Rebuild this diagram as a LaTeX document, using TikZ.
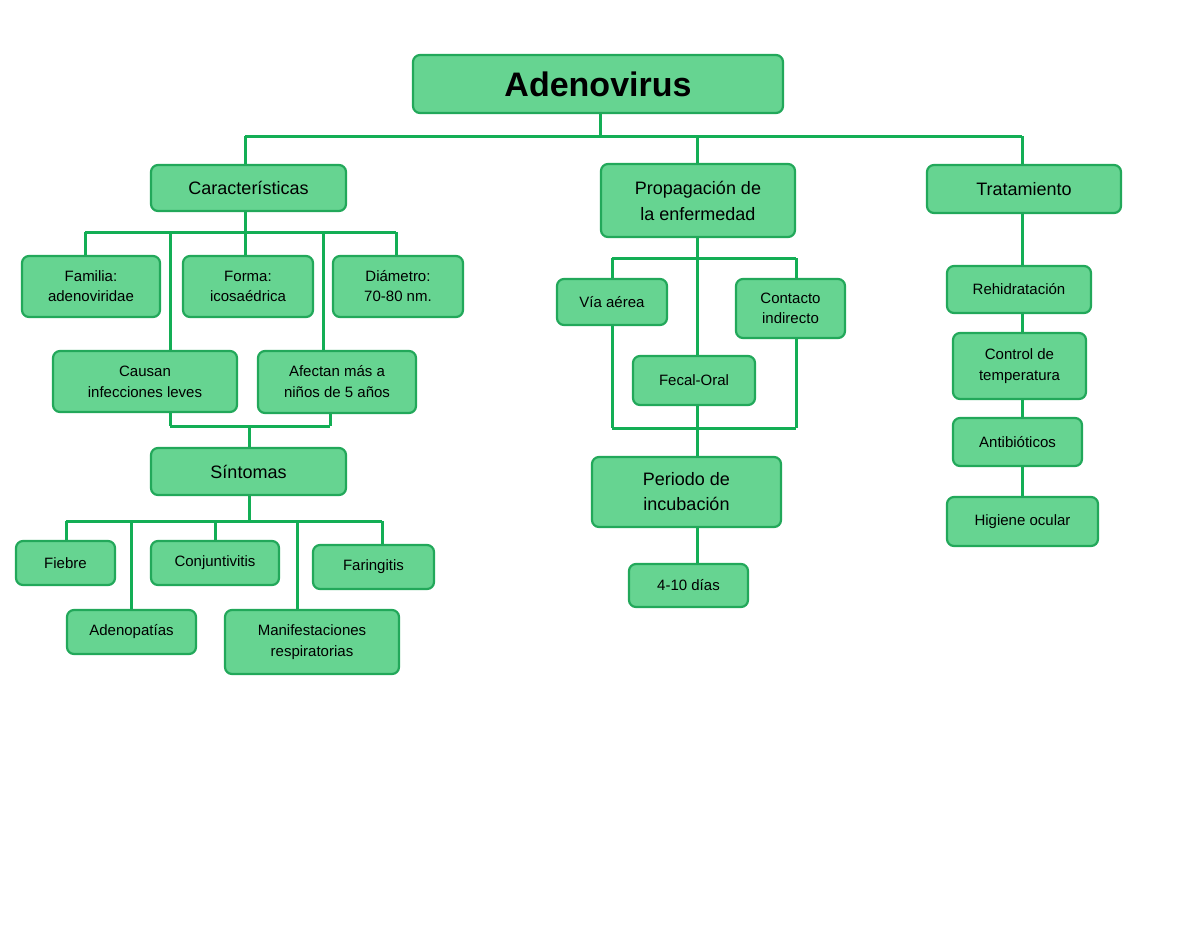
\documentclass[tikz,border=0pt]{standalone}
\usepackage{fontspec}
\setmainfont{Liberation Sans}
\begin{document}
\begin{tikzpicture}[x=1pt,y=-1pt,
  bx/.style={draw=boxline,fill=boxfill,rounded corners=7pt,line width=2.2pt,align=center},
  ln/.style={draw=lnc,line width=3pt}]
\definecolor{boxfill}{HTML}{66D491}
\definecolor{boxline}{HTML}{22A85A}
\definecolor{lnc}{HTML}{13AE55}
\useasboundingbox (0,0) rectangle (1200,927);
\newcommand{\bb}[6]{\node[bx,minimum width=#4-#2,minimum height=#5-#3,font=#6] (#1) at ({(#2+#4)/2},{(#3+#5)/2}) {};}
% connectors
\draw[ln] (600,113)--(600,136) (245,136)--(1022,136) (245,136)--(245,165) (697,136)--(697,164) (1022,136)--(1022,165);
\draw[ln] (245,211)--(245,232) (85,232)--(396,232) (85,232)--(85,256) (170,232)--(170,351) (245,232)--(245,256) (323,232)--(323,351) (396,232)--(396,256);
\draw[ln] (170,412)--(170,426) (330,413)--(330,426) (170,426)--(330,426) (249,426)--(249,448);
\draw[ln] (249,495)--(249,521) (66,521)--(382,521) (66,521)--(66,541) (131,521)--(131,610) (215,521)--(215,541) (297,521)--(297,610) (382,521)--(382,545);
\draw[ln] (697,237)--(697,457) (612,258)--(796,258) (612,258)--(612,279) (796,258)--(796,279) (612,325)--(612,428) (796,338)--(796,428) (612,428)--(796,428) (697,527)--(697,564);
\draw[ln] (1022,213)--(1022,497);
% boxes
\node[bx,minimum width=370,minimum height=58,font=\fontsize{34}{38}\selectfont\bfseries] (adv) at (598,84) {Adenovirus};
\def\mk#1#2#3#4#5#6#7{\node[bx,minimum width={#4-#2},minimum height={#5-#3},font=#6] (#1) at ({(#2+#4)/2},{(#3+#5)/2}) {#7};}
\mk{car}{151}{165}{346}{211}{\fontsize{18}{22}\selectfont}{Características}
\mk{pro}{601}{164}{795}{237}{\fontsize{18}{26}\selectfont}{Propagación de\\la enfermedad}
\mk{tra}{927}{165}{1121}{213}{\fontsize{18}{22}\selectfont}{Tratamiento}
\mk{fam}{22}{256}{160}{317}{\fontsize{15}{20}\selectfont}{Familia:\\adenoviridae}
\mk{for}{183}{256}{313}{317}{\fontsize{15}{20}\selectfont}{Forma:\\icosaédrica}
\mk{dia}{333}{256}{463}{317}{\fontsize{15}{20}\selectfont}{Diámetro:\\70-80 nm.}
\mk{cau}{53}{351}{237}{412}{\fontsize{15}{21}\selectfont}{Causan\\infecciones leves}
\mk{afe}{258}{351}{416}{413}{\fontsize{15}{21}\selectfont}{Afectan más a\\niños de 5 años}
\mk{sin}{151}{448}{346}{495}{\fontsize{18}{22}\selectfont}{Síntomas}
\mk{fie}{16}{541}{115}{585}{\fontsize{15}{20}\selectfont}{Fiebre}
\mk{con}{151}{541}{279}{585}{\fontsize{15}{20}\selectfont}{Conjuntivitis}
\mk{far}{313}{545}{434}{589}{\fontsize{15}{20}\selectfont}{Faringitis}
\mk{ade}{67}{610}{196}{654}{\fontsize{15}{20}\selectfont}{Adenopatías}
\mk{man}{225}{610}{399}{674}{\fontsize{15}{21}\selectfont}{Manifestaciones\\respiratorias}
\mk{via}{557}{279}{667}{325}{\fontsize{15}{20}\selectfont}{Vía aérea}
\mk{cto}{736}{279}{845}{338}{\fontsize{15}{20}\selectfont}{Contacto\\indirecto}
\mk{fec}{633}{356}{755}{405}{\fontsize{15}{20}\selectfont}{Fecal-Oral}
\mk{per}{592}{457}{781}{527}{\fontsize{18}{25}\selectfont}{Periodo de\\incubación}
\mk{dias}{629}{564}{748}{607}{\fontsize{15}{20}\selectfont}{4-10 días}
\mk{reh}{947}{266}{1091}{313}{\fontsize{15}{20}\selectfont}{Rehidratación}
\mk{ctl}{953}{333}{1086}{399}{\fontsize{15}{21}\selectfont}{Control de\\temperatura}
\mk{ant}{953}{418}{1082}{466}{\fontsize{15}{20}\selectfont}{Antibióticos}
\mk{hig}{947}{497}{1098}{546}{\fontsize{15}{20}\selectfont}{Higiene ocular}
\end{tikzpicture}
\end{document}
